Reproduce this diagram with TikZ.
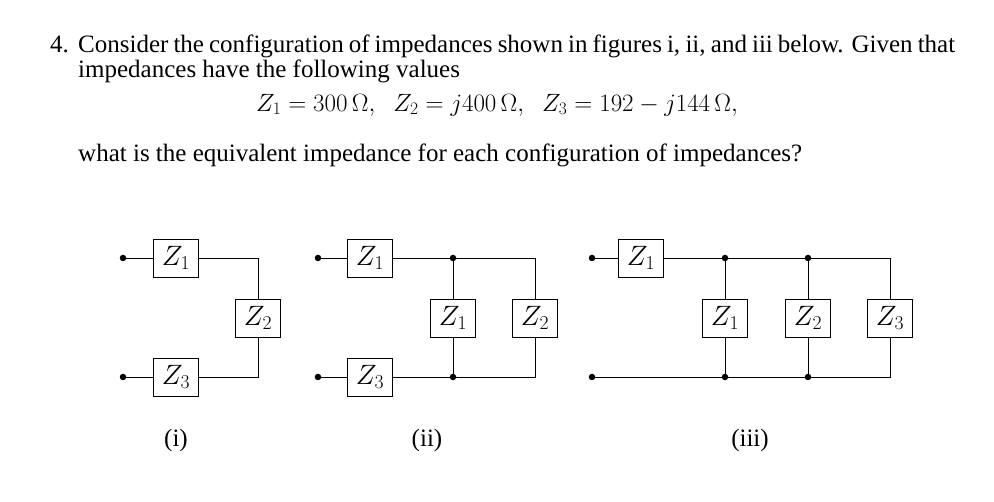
\documentclass[tikz,border=0pt]{standalone}
\usepackage{fix-cm}
\usepackage{fontspec}
\setmainfont{Liberation Serif}
\begin{document}
\begin{tikzpicture}[x=1pt,y=-1pt,
  every node/.style={font=\fontsize{25}{26}\selectfont},
  imp/.style={draw,line width=0.9pt,minimum width=45pt,minimum height=38pt,inner sep=0pt,font=\fontsize{28}{28}\selectfont,fill=white},
  dotc/.style={circle,fill,inner sep=0pt,minimum size=6.5pt},
  wire/.style={line width=0.9pt}]
\useasboundingbox (0,0) rectangle (994,502);
\node[anchor=base west,inner sep=0pt] (num) at (50,53) {4.};
\node[anchor=base west,inner sep=0pt] (l1) at (78,53)
 {\makebox[877pt][s]{Consider the configuration of impedances shown in figures i, ii, and iii below. Given that}};
\node[anchor=base west,inner sep=0pt] (l2) at (78,78) {impedances have the following values};
\node (eq) at (497,105) {$Z_1=300\,\Omega,\;\; Z_2=j400\,\Omega,\;\; Z_3=192-j144\,\Omega,$};
\node[anchor=base west,inner sep=0pt] (q) at (78,162) {what is the equivalent impedance for each configuration of impedances?};
% (i)
\node[dotc] (a1) at (123,258) {};
\node[dotc] (a2) at (123,377) {};
\node[imp] (iz1) at (176,258) {$Z_1$};
\node[imp] (iz2) at (258,318) {$Z_2$};
\node[imp] (iz3) at (176,377) {$Z_3$};
\coordinate (ic1) at (258,258);
\coordinate (ic2) at (258,377);
\draw[wire] (a1) -- (iz1) -- (ic1) -- (iz2) -- (ic2) -- (iz3) -- (a2);
\node (li) at (176,440) {(i)};
% (ii)
\node[dotc] (b1) at (318,258) {};
\node[dotc] (b2) at (318,377) {};
\node[imp] (jz1) at (370,258) {$Z_1$};
\node[imp] (jz3) at (370,377) {$Z_3$};
\node[dotc] (bt) at (453,258) {};
\node[dotc] (bb) at (453,377) {};
\coordinate (jc1) at (535,258);
\coordinate (jc2) at (535,377);
\draw[wire] (b1) -- (jz1) -- (bt) -- (jc1) -- (jc2) -- (bb) -- (jz3) -- (b2);
\draw[wire] (bt) -- (bb);
\node[imp] (jz1b) at (453,318) {$Z_1$};
\node[imp] (jz2) at (535,318) {$Z_2$};
\node (lii) at (427,440) {(ii)};
% (iii)
\node[dotc] (c1) at (592,258) {};
\node[dotc] (c2) at (592,377) {};
\node[imp] (kz1) at (641,258) {$Z_1$};
\node[dotc] (ct1) at (725,258) {};
\node[dotc] (ct2) at (808,258) {};
\node[dotc] (cb1) at (725,377) {};
\node[dotc] (cb2) at (808,377) {};
\coordinate (kc1) at (890,258);
\coordinate (kc2) at (890,377);
\draw[wire] (c1) -- (kz1) -- (ct1) -- (ct2) -- (kc1) -- (kc2) -- (cb2) -- (cb1) -- (c2);
\draw[wire] (ct1) -- (cb1);
\draw[wire] (ct2) -- (cb2);
\node[imp] (kz1b) at (725,318) {$Z_1$};
\node[imp] (kz2) at (808,318) {$Z_2$};
\node[imp] (kz3) at (890,318) {$Z_3$};
\node (liii) at (750,440) {(iii)};
\end{tikzpicture}
\end{document}
